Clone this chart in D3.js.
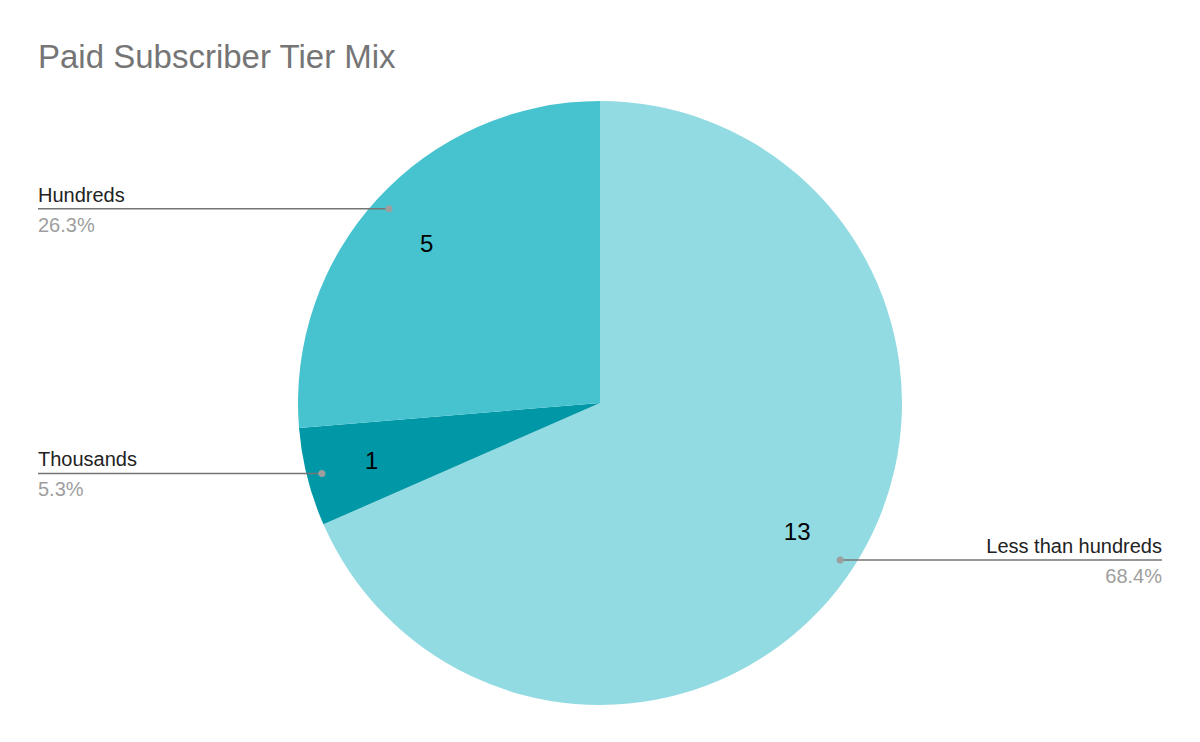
<!DOCTYPE html>
<html><head><meta charset="utf-8">
<script src="https://cdn.jsdelivr.net/npm/d3@7"></script>
<style>body{margin:0;background:#fff;font-family:"Liberation Sans",Arial,sans-serif;}</style>
</head><body>
<script>
var categories = ["Less than hundreds", "Thousands", "Hundreds"];
var values = [13, 1, 5];
var colours = ["#93dbe2", "#0097a7", "#46c3cf"];

var w = 1200, h = 742, cx = 600, cy = 403, r = 302;
var total = d3.sum(values);

var svg = d3.select("body").append("svg").attr("width", w).attr("height", h);

svg.append("text").attr("x", 38).attr("y", 68)
   .attr("font-size", 33).attr("fill", "#757575")
   .text("Paid Subscriber Tier Mix");

var pie = d3.pie().sort(null).value(function(d){ return d; });
var arcs = pie(values);
var arc = d3.arc().innerRadius(0).outerRadius(r);

var g = svg.append("g").attr("transform", "translate(" + cx + "," + cy + ")");

g.selectAll("path").data(arcs).enter().append("path")
  .attr("d", arc)
  .attr("fill", function(d, i){ return colours[i]; });

// value labels inside
g.selectAll("text.val").data(arcs).enter().append("text")
  .attr("class", "val")
  .attr("x", function(d){ return Math.sin((d.startAngle + d.endAngle) / 2) * r * 0.78; })
  .attr("y", function(d){ return -Math.cos((d.startAngle + d.endAngle) / 2) * r * 0.78; })
  .attr("dy", "0.35em").attr("text-anchor", "middle")
  .attr("font-size", 24).attr("fill", "#000")
  .text(function(d){ return d.value; });

// leader lines + labels
arcs.forEach(function(d, i){
  var a = (d.startAngle + d.endAngle) / 2;
  var px = cx + Math.sin(a) * r * 0.95, py = cy - Math.cos(a) * r * 0.95;
  var right = Math.sin(a) > 0;
  var ex = right ? 1162 : 38;
  svg.append("line").attr("x1", px).attr("y1", py).attr("x2", ex).attr("y2", py)
     .attr("stroke", "#757575").attr("stroke-width", 1.5);
  svg.append("circle").attr("cx", px).attr("cy", py).attr("r", 3.5).attr("fill", "#9e9e9e");
  var anchor = right ? "end" : "start";
  svg.append("text").attr("x", ex).attr("y", py - 7).attr("text-anchor", anchor)
     .attr("font-size", 20).attr("fill", "#222").text(categories[i]);
  svg.append("text").attr("x", ex).attr("y", py + 23).attr("text-anchor", anchor)
     .attr("font-size", 20).attr("fill", "#9e9e9e")
     .text((d.value / total * 100).toFixed(1) + "%");
});
</script>
</body></html>
